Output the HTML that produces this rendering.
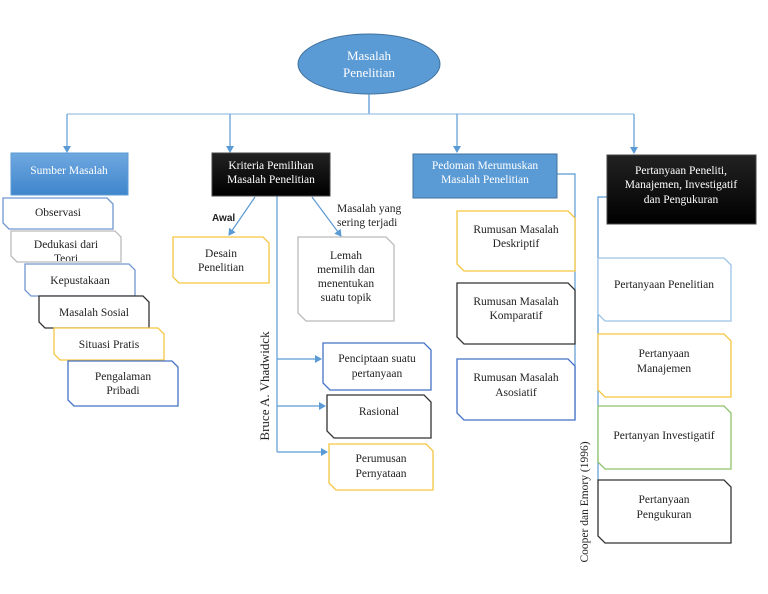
<!DOCTYPE html>
<html><head><meta charset="utf-8"><style>
html,body{margin:0;padding:0;background:#fff;}
svg{display:block;}
text{font-family:"Liberation Serif",serif;font-size:11.5px;fill:#222;}
.w{fill:#fff;}
</style></head><body>
<svg width="768" height="594" viewBox="0 0 768 594" xmlns="http://www.w3.org/2000/svg">
<defs>
<marker id="a" markerWidth="8" markerHeight="8" refX="6" refY="4" orient="auto" markerUnits="userSpaceOnUse">
<path d="M0,0 L7,4 L0,8 Z" fill="#5b9bd5"/></marker>
<linearGradient id="g1" x1="0" y1="0" x2="0" y2="1"><stop offset="0" stop-color="#6fa8e0"/><stop offset="1" stop-color="#3f86cc"/></linearGradient>
<linearGradient id="g2" x1="0" y1="0" x2="0" y2="1"><stop offset="0" stop-color="#222"/><stop offset="1" stop-color="#000"/></linearGradient>
</defs>
<!-- top -->
<ellipse cx="369" cy="64" rx="71" ry="30" fill="#5b9bd5" stroke="#41719c" stroke-width="1"/>
<text x="369" y="60" text-anchor="middle" class="w" style="font-size:13px">Masalah</text>
<text x="369" y="77" text-anchor="middle" class="w" style="font-size:13px">Penelitian</text>
<g stroke="#9dc3e6" stroke-width="1.3" fill="none">
<line x1="369" y1="94" x2="369" y2="114" stroke="#5b9bd5"/>
<line x1="67" y1="114" x2="634" y2="114"/>
</g>
<g stroke="#5b9bd5" stroke-width="1.2" fill="none">
<line x1="67" y1="114" x2="67" y2="152" marker-end="url(#a)"/>
<line x1="230" y1="114" x2="230" y2="152" marker-end="url(#a)"/>
<line x1="457" y1="114" x2="457" y2="152" marker-end="url(#a)"/>
<line x1="634" y1="114" x2="634" y2="153" marker-end="url(#a)"/>
<!-- kriteria -->
<line x1="255" y1="197" x2="229" y2="235" marker-end="url(#a)"/>
<line x1="312" y1="197" x2="341" y2="236" marker-end="url(#a)"/>
<line x1="277" y1="196" x2="277" y2="452"/>
<line x1="277" y1="359" x2="321" y2="359" marker-end="url(#a)"/>
<line x1="277" y1="406" x2="325" y2="406" marker-end="url(#a)"/>
<line x1="277" y1="452" x2="327" y2="452" marker-end="url(#a)"/>
<!-- pedoman -->
<polyline points="557,174 575,174 575,420"/>
<polyline points="607,197 598,197 598,480"/>
</g>
<!-- header boxes -->
<rect x="11" y="153" width="117" height="42" fill="url(#g1)" stroke="#5b9bd5"/>
<text x="69" y="174" text-anchor="middle" class="w">Sumber Masalah</text>
<rect x="212" y="153" width="118" height="43" fill="url(#g2)" stroke="#444"/>
<text x="271" y="169" text-anchor="middle" class="w">Kriteria Pemilihan</text>
<text x="271" y="183" text-anchor="middle" class="w">Masalah Penelitian</text>
<rect x="413" y="154" width="144" height="44" fill="#5b9bd5" stroke="#41719c"/>
<text x="485" y="169" text-anchor="middle" class="w">Pedoman Merumuskan</text>
<text x="485" y="183" text-anchor="middle" class="w">Masalah Penelitian</text>
<rect x="607" y="155" width="149" height="69" fill="url(#g2)" stroke="#444"/>
<text x="681" y="174" text-anchor="middle" class="w">Pertanyaan Peneliti,</text>
<text x="681" y="188" text-anchor="middle" class="w">Manajemen, Investigatif</text>
<text x="681" y="203" text-anchor="middle" class="w">dan Pengukuran</text>
<!-- snip boxes -->
<g fill="#fff" stroke-width="1.3">
<path d="M3,198 H107 L113,204 V229 H9 L3,223 Z" stroke="#6f96d0"/>
<path d="M11,231 H115 L121,237 V262 H17 L11,256 Z" stroke="#bbb"/>
<path d="M25,264 H129 L135,270 V296 H31 L25,290 Z" stroke="#6f96d0"/>
<path d="M39,296 H143 L149,302 V328 H45 L39,322 Z" stroke="#333"/>
<path d="M54,328 H158 L164,334 V360 H60 L54,354 Z" stroke="#f5c542"/>
<path d="M68,361 H172 L178,367 V406 H74 L68,400 Z" stroke="#4472c4"/>
<path d="M173,237 H263 L269,243 V283 H179 L173,277 Z" stroke="#f5c542"/>
<path d="M298,237 H386 L394,245 V321 H306 L298,313 Z" stroke="#bbb"/>
<path d="M323,343 H424 L431,350 V390 H330 L323,383 Z" stroke="#4472c4"/>
<path d="M327,395 H424 L431,402 V438 H334 L327,431 Z" stroke="#333"/>
<path d="M329,444 H426 L433,451 V490 H336 L329,483 Z" stroke="#f5c542"/>
<path d="M457,211 H568 L575,218 V271 H464 L457,264 Z" stroke="#f5c542"/>
<path d="M457,283 H568 L575,290 V344 H464 L457,337 Z" stroke="#333"/>
<path d="M457,359 H568 L575,366 V420 H464 L457,413 Z" stroke="#4472c4"/>
<path d="M598,258 H724 L731,265 V321 H605 L598,314 Z" stroke="#9dc3e6"/>
<path d="M598,334 H724 L731,341 V397 H605 L598,390 Z" stroke="#f5c542"/>
<path d="M598,406 H724 L731,413 V469 H605 L598,462 Z" stroke="#8fc26b"/>
<path d="M598,480 H724 L731,487 V543 H605 L598,536 Z" stroke="#333"/>
</g>
<!-- texts -->
<g text-anchor="middle">
<text x="58" y="216">Observasi</text>
<svg x="11" y="231" width="110" height="30" overflow="hidden"><text x="55" y="17">Dedukasi dari</text><text x="55" y="31">Teori</text></svg>
<text x="80" y="284">Kepustakaan</text>
<text x="94" y="316">Masalah Sosial</text>
<text x="109" y="348">Situasi Pratis</text>
<text x="123" y="380">Pengalaman</text>
<text x="123" y="394">Pribadi</text>
<text x="221" y="257">Desain</text>
<text x="221" y="271">Penelitian</text>
<text x="346" y="259">Lemah</text>
<text x="346" y="273">memilih dan</text>
<text x="346" y="287">menentukan</text>
<text x="346" y="301">suatu topik</text>
<text x="377" y="362">Penciptaan suatu</text>
<text x="377" y="377">pertanyaan</text>
<text x="379" y="415">Rasional</text>
<text x="381" y="462">Perumusan</text>
<text x="381" y="477">Pernyataan</text>
<text x="516" y="233">Rumusan Masalah</text>
<text x="516" y="247">Deskriptif</text>
<text x="516" y="305">Rumusan Masalah</text>
<text x="516" y="319">Komparatif</text>
<text x="516" y="381">Rumusan Masalah</text>
<text x="516" y="396">Asosiatif</text>
<text x="664" y="288">Pertanyaan Penelitian</text>
<text x="664" y="357">Pertanyaan</text>
<text x="664" y="372">Manajemen</text>
<text x="664" y="439">Pertanyan Investigatif</text>
<text x="664" y="503">Pertanyaan</text>
<text x="664" y="518">Pengukuran</text>
</g>
<text x="212" y="221" style="font-family:'Liberation Sans',sans-serif;font-size:10px;font-weight:bold">Awal</text>
<text x="337" y="212">Masalah yang</text>
<text x="337" y="226">sering terjadi</text>
<text transform="translate(269,386) rotate(-90)" text-anchor="middle" style="font-size:13px">Bruce A. Vhadwidck</text>
<text transform="translate(588,502) rotate(-90)" text-anchor="middle" style="font-size:11.5px">Cooper dan Emory (1996)</text>
</svg>
</body></html>
